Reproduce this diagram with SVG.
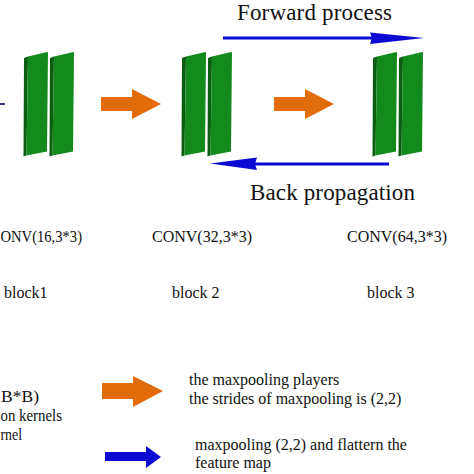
<svg xmlns="http://www.w3.org/2000/svg" xmlns:xlink="http://www.w3.org/1999/xlink" width="474" height="474" viewBox="0 0 474 474">
<style>
text{font-family:"Liberation Serif","Times New Roman",serif;fill:#111}
.big{font-size:23px}
.lbl{font-size:16px}
.orange{fill:#e36c0a}
.blue{fill:#0a0ad2}
.face{fill:#138a1c}
.side{fill:#0b5e10}
.top{fill:#2fa236}
</style>
<defs>
<g id="slab">
<polygon class="side" points="24,58 28,56.5 26.5,155.5 23.5,156.5"/>
<polygon class="face" points="28,56.5 48,52 47,151.5 26.5,155.5"/>
<polygon class="top" points="26,57.5 46.5,52 48,52 28,57"/>
</g>
<g id="pair">
<use xlink:href="#slab"/>
<use xlink:href="#slab" x="26"/>
</g>
<g id="fatArrow">
<polygon points="0,-7 31,-7 31,-15 60,0 31,15 31,7 0,7"/>
</g>
</defs>
<g id="block1"><use xlink:href="#pair"/></g>
<g id="block2"><use xlink:href="#pair" x="158"/></g>
<g id="block3"><use xlink:href="#pair" x="349"/></g>
<g id="connectors">
<line x1="0" y1="104" x2="5" y2="104" stroke="#3a3a7a" stroke-width="2"/>
<use xlink:href="#fatArrow" class="orange" x="101" y="104"/>
<use xlink:href="#fatArrow" class="orange" x="274" y="104"/>
<rect class="blue" x="223" y="36.5" width="150" height="3"/>
<polygon class="blue" points="370,32.5 372,38 370,44 424,38"/>
<rect class="blue" x="255" y="162.5" width="134" height="3"/>
<polygon class="blue" points="257,157.5 255,164 257,170 210,163.5"/>
</g>
<g id="titles">
<text class="big" x="237" y="20" textLength="155">Forward process</text>
<text class="big" x="250" y="200" textLength="165">Back propagation</text>
</g>
<g id="labels">
<text class="lbl" x="0.5" y="242" textLength="81.5" lengthAdjust="spacingAndGlyphs">ONV(16,3*3)</text>
<text class="lbl" x="152" y="242">CONV(32,3*3)</text>
<text class="lbl" x="347" y="242">CONV(64,3*3)</text>
<text class="lbl" x="4" y="298">block1</text>
<text class="lbl" x="172" y="298">block 2</text>
<text class="lbl" x="367" y="298">block 3</text>
</g>
<g id="legend">
<text class="lbl" x="1" y="402" textLength="38" lengthAdjust="spacingAndGlyphs">B*B)</text>
<text class="lbl" x="0.5" y="421" textLength="61.5" lengthAdjust="spacingAndGlyphs">on kernels</text>
<text class="lbl" x="0.5" y="440" textLength="21.5" lengthAdjust="spacingAndGlyphs">rnel</text>
<polygon class="orange" points="102,383 133,383 133,376 163,391 133,407 133,399 102,399"/>
<text class="lbl" x="189" y="385">the maxpooling players</text>
<text class="lbl" x="189" y="404">the strides of maxpooling is (2,2)</text>
<polygon class="blue" points="105,452 146,452 146,446 161,457 146,468 146,461 105,461"/>
<text class="lbl" x="195" y="450">maxpooling (2,2) and flattern the</text>
<text class="lbl" x="195" y="468">feature map</text>
</g>
</svg>
